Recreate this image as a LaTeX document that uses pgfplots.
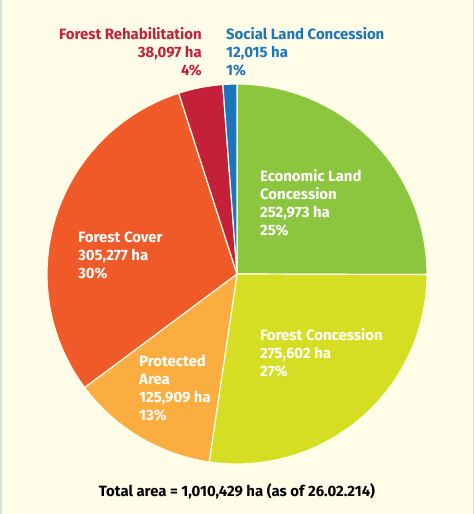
\documentclass[border=0pt]{standalone}
\usepackage{fontspec}
\setmainfont{Fira Sans}
\usepackage{pgfplots}
\usepackage{pgfplotstable}
\pgfplotsset{compat=1.18}
\definecolor{bg}{HTML}{FFFDE8}
\definecolor{edge}{HTML}{D3E3DC}
\definecolor{cEL}{HTML}{8CC63F}
\definecolor{cFC}{HTML}{D6DE23}
\definecolor{cPA}{HTML}{FBAD3F}
\definecolor{cFCov}{HTML}{F05A28}
\definecolor{cFR}{HTML}{C4203A}
\definecolor{cSL}{HTML}{1B75BB}
% values in thousands of ha
\pgfplotstableread{
name value
EL 252.973
FC 275.602
PA 125.909
FCov 305.277
FR 38.097
SL 12.015
}\pietable
\pgfplotstablegetelem{0}{value}\of\pietable \let\vA\pgfplotsretval%
\pgfplotstablegetelem{1}{value}\of\pietable \let\vB\pgfplotsretval%
\pgfplotstablegetelem{2}{value}\of\pietable \let\vC\pgfplotsretval%
\pgfplotstablegetelem{3}{value}\of\pietable \let\vD\pgfplotsretval%
\pgfplotstablegetelem{4}{value}\of\pietable \let\vE\pgfplotsretval%
\pgfplotstablegetelem{5}{value}\of\pietable \let\vF\pgfplotsretval%
\pgfmathsetmacro\tot{\vA+\vB+\vC+\vD+\vE+\vF}%
\pgfmathsetmacro\aA{90}%
\pgfmathsetmacro\aB{\aA-\vA/\tot*360}%
\pgfmathsetmacro\aC{\aB-\vB/\tot*360}%
\pgfmathsetmacro\aD{\aC-\vC/\tot*360}%
\pgfmathsetmacro\aE{\aD-\vD/\tot*360}%
\pgfmathsetmacro\aF{\aE-\vE/\tot*360}%
\pgfmathsetmacro\aG{\aF-\vF/\tot*360}%
\newcommand\sector[3]{%
  \addplot[fill=#3, draw=bg, line width=1.2bp, line join=round, domain=#2:#1, samples=90, variable=\t]
    ({cos(\t)},{sin(\t)}) -- (axis cs:0,0) -- cycle;}
\begin{document}%
\begin{tikzpicture}[lbl/.style={font=\bfseries\fontsize{15}{18}\selectfont, inner sep=0pt}]
\fill[bg] (-237bp,-240bp) rectangle (237bp,274bp);
\fill[edge] (-237bp,-240bp) rectangle (-235bp,274bp);
\fill[edge] (235.5bp,-240bp) rectangle (237bp,274bp);
\begin{axis}[anchor=origin, at={(0,0)}, x=190bp, y=190bp,
  xmin=-1, xmax=1, ymin=-1, ymax=1, hide axis, clip=false]
\sector{\aA}{\aB}{cEL}
\sector{\aB}{\aC}{cFC}
\sector{\aC}{\aD}{cPA}
\sector{\aD}{\aE}{cFCov}
\sector{\aE}{\aF}{cFR}
\sector{\aF}{\aG}{cSL}
\end{axis}
\node[lbl, text=cFR, align=right, anchor=north east] at (-35bp,247bp) {Forest Rehabilitation\\38,097 ha\\4\%};
\node[lbl, text=cSL, align=left, anchor=north west] at (-11bp,247bp) {Social Land Concession\\12,015 ha\\1\%};
\node[lbl, text=white, align=left, anchor=north west] at (23bp,105bp) {Economic Land\\Concession\\252,973 ha\\25\%};
\node[lbl, text=white, align=left, anchor=north west] at (23bp,-54bp) {Forest Concession\\275,602 ha\\27\%};
\node[lbl, text=white, align=left, anchor=north west] at (-159bp,42bp) {Forest Cover\\305,277 ha\\30\%};
\node[lbl, text=white, align=left, anchor=north west] at (-98bp,-81bp) {Protected\\Area\\125,909 ha\\13\%};
\node[lbl, text=black, anchor=north] at (0bp,-209bp) {Total area = 1,010,429 ha (as of 26.02.214)};
\end{tikzpicture}%
\end{document}
